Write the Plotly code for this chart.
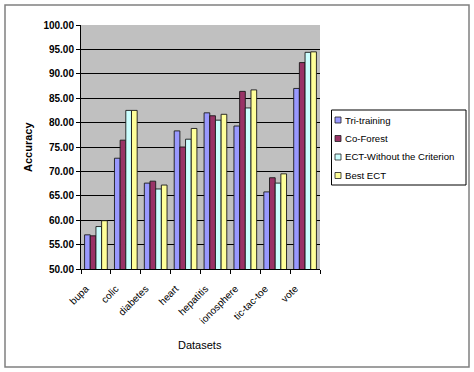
import plotly.graph_objects as go

datasets = ["bupa", "colic", "diabetes", "heart", "hepatitis", "ionosphere", "tic-tac-toe", "vote"]
tri_training = [57.0, 72.7, 67.6, 78.3, 82.0, 79.3, 65.8, 87.0]
co_forest = [56.8, 76.4, 68.0, 75.0, 81.4, 86.4, 68.7, 92.3]
ect_without = [58.7, 82.5, 66.4, 76.6, 80.5, 83.0, 67.6, 94.4]
best_ect = [59.9, 82.5, 67.2, 78.8, 81.7, 86.7, 69.5, 94.5]

series_names = ["Tri-training", "Co-Forest", "ECT-Without the Criterion", "Best ECT"]
series_values = [tri_training, co_forest, ect_without, best_ect]
series_colors = ["#9999FF", "#993366", "#CCFFFF", "#FFFF99"]

font_family = "Liberation Sans, Arial, sans-serif"

W, H = 474, 372
L, R, T, B = 81, 320, 25, 269  # plot area in pixels


def px_x(x):
    return (x - L) / (R - L)


def px_y(y):
    return (B - y) / (B - T)


fig = go.Figure()
for name, vals, color in zip(series_names, series_values, series_colors):
    fig.add_trace(go.Bar(
        x=datasets, y=vals, name=name,
        marker=dict(color=color, line=dict(color="#1a1a1a", width=0.9)),
    ))

shapes = [
    # outer chart frame
    dict(type="rect", xref="paper", yref="paper",
         x0=px_x(5), x1=px_x(469), y0=px_y(367), y1=px_y(5),
         line=dict(color="#808080", width=1.5), layer="below"),
    # legend box
    dict(type="rect", xref="paper", yref="paper",
         x0=px_x(331.5), x1=px_x(466), y0=px_y(185), y1=px_y(110),
         line=dict(color="#000000", width=1), fillcolor="white"),
]
annotations = [
    dict(xref="paper", yref="paper", x=px_x(28), y=px_y(147),
         xanchor="center", yanchor="middle", showarrow=False, textangle=-90,
         text="<b>Accuracy</b>", font=dict(size=11, family=font_family)),
    dict(xref="paper", yref="paper", x=px_x(200), y=px_y(345),
         xanchor="center", yanchor="middle", showarrow=False,
         text="Datasets", font=dict(size=11, family=font_family)),
]
item_y = [120, 138.5, 157, 175.5]
for name, color, yc in zip(series_names, series_colors, item_y):
    shapes.append(dict(type="rect", xref="paper", yref="paper",
                       x0=px_x(335), x1=px_x(341), y0=px_y(yc + 3), y1=px_y(yc - 3),
                       line=dict(color="#202020", width=0.8), fillcolor=color))
    annotations.append(dict(xref="paper", yref="paper", x=px_x(343), y=px_y(yc),
                            xanchor="left", yanchor="middle", showarrow=False,
                            text=name, font=dict(size=9.6, family=font_family)))

fig.update_layout(
    width=W, height=H,
    margin=dict(l=L, r=W - R, t=T, b=H - B, autoexpand=False),
    paper_bgcolor="white",
    plot_bgcolor="#C0C0C0",
    barmode="group",
    bargap=0.24,
    bargroupgap=0,
    font=dict(family=font_family, size=10, color="#000000"),
    showlegend=False,
    xaxis=dict(
        automargin=False,
        tickangle=-45,
        tickson="boundaries",
        ticks="outside", ticklen=4, tickcolor="#000000",
        showline=True, linecolor="#000000", linewidth=1,
        tickfont=dict(size=10),
        ticklabelstandoff=9,
        ticklabelshift=-10,
    ),
    yaxis=dict(
        automargin=False,
        range=[50, 100],
        dtick=5,
        tickformat=".2f",
        ticks="outside", ticklen=4, tickcolor="#000000",
        showline=True, linecolor="#000000", linewidth=1,
        showgrid=True, gridcolor="#000000", gridwidth=1,
        tickfont=dict(size=10, weight="bold"),
    ),
    shapes=shapes,
    annotations=annotations,
)

fig.write_html("out.html", config={"displayModeBar": False},
               post_script="document.body.style.margin='0';")
